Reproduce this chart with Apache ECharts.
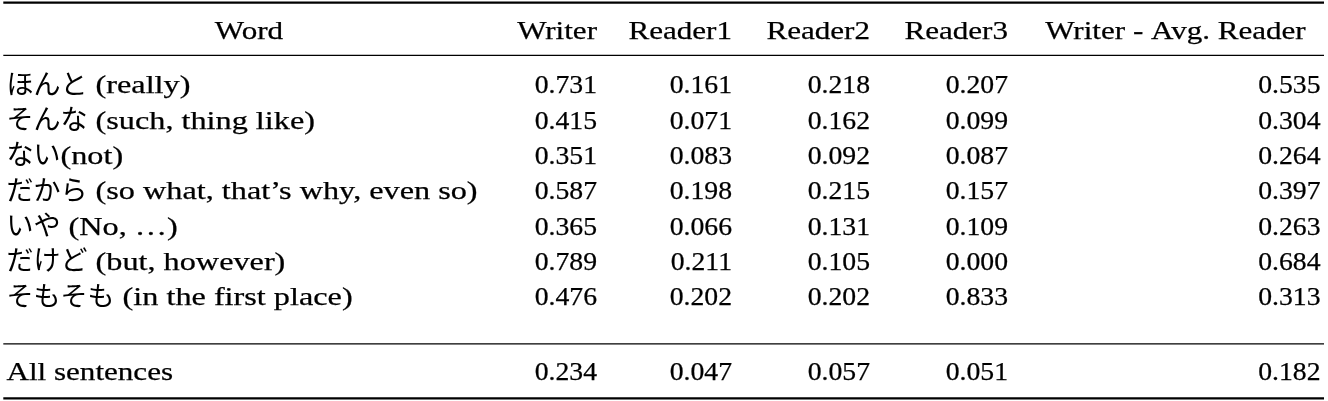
<!DOCTYPE html>
<html>
<head>
<meta charset="utf-8">
<script src="https://cdn.jsdelivr.net/npm/echarts@6/dist/echarts.min.js"></script>
<style>
html,body{margin:0;padding:0;background:#fff;}
#c{width:1328px;height:401px;}
</style>
</head>
<body>
<div id="c"></div>
<script>
// ---------------- data ----------------
const columns = ['Word', 'Writer', 'Reader1', 'Reader2', 'Reader3', 'Writer - Avg. Reader'];
const wordsJa = ['ほんと', 'そんな', 'ない', 'だから', 'いや', 'だけど', 'そもそも'];
const wordsEn = [' (really)', ' (such, thing like)', '(not)', ' (so what, that’s why, even so)', ' (No, …)', ' (but, however)', ' (in the first place)'];
const writer  = [0.731, 0.415, 0.351, 0.587, 0.365, 0.789, 0.476];
const reader1 = [0.161, 0.071, 0.083, 0.198, 0.066, 0.211, 0.202];
const reader2 = [0.218, 0.162, 0.092, 0.215, 0.131, 0.105, 0.202];
const reader3 = [0.207, 0.099, 0.087, 0.157, 0.109, 0.000, 0.833];
const writerMinusAvg = [0.535, 0.304, 0.264, 0.397, 0.263, 0.684, 0.313];
const totalLabel = 'All sentences';
const totals = [0.234, 0.047, 0.057, 0.051, 0.182];

// ---------------- layout / style ----------------
const W = 1328, H = 401;
const INK = '#000';
const SERIF = '"Liberation Serif", "Times New Roman", serif';
const JA_FONT = '"Noto Sans CJK JP", sans-serif';
const FS = 26, JA_FS = 27, JA_DY = -3, JA_GAP = 0;
const TEXT_SX = 1.195, WORD_SX = 1.24, NUM_SX = 1.065;
const STROKE_W = 0.25;
const headerAnchors = [[249, 'center'], [597, 'right'], [732, 'right'], [870, 'right'], [1008, 'right'], [1175.5, 'center']];
const bodyAnchors = [[6.5, 'left'], [597, 'right'], [732, 'right'], [870, 'right'], [1008, 'right'], [1320.5, 'right']];
const headerY = 32.2, bodyY0 = 86.5, rowStep = 35.3, totalY = 373.3;
const ruleX = [3.3, 1324];
const rules = [[2.6, 2.2], [55.4, 1.3], [343.8, 1.3], [398.3, 2.2]];

// ---------------- build cells ----------------
const valueCols = [writer, reader1, reader2, reader3, writerMinusAvg];
const cells = [];
columns.forEach((t, i) => cells.push({kind: 'text', x: headerAnchors[i][0], y: headerY, align: headerAnchors[i][1], text: t}));
wordsJa.forEach((ja, r) => {
  const y = bodyY0 + r * rowStep;
  cells.push({kind: 'word', x: bodyAnchors[0][0], y: y, ja: ja, en: wordsEn[r]});
  valueCols.forEach((col, c) => cells.push({kind: 'num', x: bodyAnchors[c + 1][0], y: y, align: 'right', text: col[r].toFixed(3)}));
});
cells.push({kind: 'text', x: bodyAnchors[0][0], y: totalY, align: 'left', text: totalLabel});
totals.forEach((v, c) => cells.push({kind: 'num', x: bodyAnchors[c + 1][0], y: totalY, align: 'right', text: v.toFixed(3)}));

function serifText(x, y, text, align, sx) {
  return {
    type: 'text', x: x, y: y, scaleX: sx, originX: 0, originY: 0,
    style: {text: text, fontFamily: SERIF, fontSize: FS, fill: INK, stroke: INK, lineWidth: STROKE_W,
            align: align, verticalAlign: 'middle'}
  };
}

function renderCell(params, api) {
  const c = cells[params.dataIndex];
  const p = api.coord([c.x, c.y]);
  if (c.kind === 'word') {
    const jaW = c.ja.length * JA_FS + JA_GAP;
    return {
      type: 'group',
      children: [
        {type: 'text', x: p[0], y: p[1] + JA_DY,
         style: {text: c.ja, fontFamily: JA_FONT, fontSize: JA_FS, fill: INK, align: 'left', verticalAlign: 'middle'}},
        serifText(p[0] + jaW, p[1], c.en, 'left', WORD_SX)
      ]
    };
  }
  return serifText(p[0], p[1], c.text, c.align, c.kind === 'num' ? NUM_SX : TEXT_SX);
}

function renderRule(params, api) {
  const r = rules[params.dataIndex];
  const a = api.coord([ruleX[0], r[0]]);
  const b = api.coord([ruleX[1], r[0]]);
  return {type: 'line', shape: {x1: a[0], y1: a[1], x2: b[0], y2: b[1]}, style: {stroke: INK, lineWidth: r[1]}};
}

const chart = echarts.init(document.getElementById('c'), null, {renderer: 'canvas'});
chart.setOption({
  animation: false,
  backgroundColor: '#fff',
  grid: {left: 0, right: 0, top: 0, bottom: 0},
  xAxis: {type: 'value', min: 0, max: W, show: false},
  yAxis: {type: 'value', min: 0, max: H, inverse: true, show: false},
  series: [
    {type: 'custom', coordinateSystem: 'cartesian2d', clip: false, silent: true,
     data: rules.map(r => [ruleX[0], r[0]]), renderItem: renderRule},
    {type: 'custom', coordinateSystem: 'cartesian2d', clip: false, silent: true,
     data: cells.map(c => [c.x, c.y]), renderItem: renderCell}
  ]
});
</script>
</body>
</html>
